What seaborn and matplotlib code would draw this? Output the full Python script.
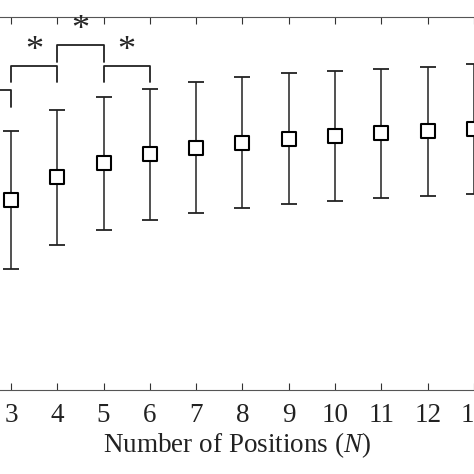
import matplotlib
matplotlib.use("Agg")
import matplotlib.pyplot as plt
import seaborn as sns
import pandas as pd

positions = [2, 3, 4, 5, 6, 7, 8, 9, 10, 11, 12, 13]
means = [168, 190, 213, 227, 236, 242, 247, 251, 254, 257, 259, 261]
upper = [283, 259, 280, 292.5, 301, 308, 313, 317, 319, 321, 323, 326]
lower = [53, 121, 145, 160, 170, 177, 182, 186, 189, 192, 194, 196]
# significance brackets: (x1, x2, bracket height, leg bottom)
brackets = [(2, 3, 300, 283), (3, 4, 324, 308), (4, 5, 345, 328), (5, 6, 324, 308)]

sns.set_style("ticks")
plt.rcParams['font.family'] = ['Liberation Serif', 'DejaVu Serif']
plt.rcParams['mathtext.fontset'] = 'custom'
plt.rcParams['mathtext.it'] = 'Liberation Serif:italic'
plt.rcParams['mathtext.rm'] = 'Liberation Serif'
fig = plt.figure(figsize=(4.74, 4.74), dpi=100)
ax = fig.add_axes([0, 84/474, 1, 373/474])
df = pd.DataFrame({"N": positions, "m": means})
yerr = [[m - l for m, l in zip(means, lower)], [u - m for m, u in zip(means, upper)]]
ax.errorbar(positions, means, yerr=yerr, fmt='none', ecolor='#222222', elinewidth=1.1,
            capsize=6, capthick=1.3, clip_on=False)
sns.scatterplot(data=df, x="N", y="m", marker='s', s=90, facecolor='white',
                edgecolor='black', linewidth=1.5, ax=ax, zorder=3, clip_on=False)
for x1, x2, h, b in brackets:
    ax.plot([x1, x1, x2, x2], [b, h, h, b], color='#222222', lw=1.3, clip_on=False)
    ax.text((x1 + x2) / 2, h - 2, '*', ha='center', va='bottom', fontsize=26)
ax.set_xlim(2.764, 12.914)
ax.set_ylim(0, 373)
ax.set_xticks(range(3, 14))
ax.set_xticklabels([str(i) for i in range(3, 14)], fontsize=19.5)
ax.set_yticks([])
ax.tick_params(axis='x', direction='in', top=True, length=5, pad=9, colors='#333333', labelcolor='#222222')
for s in ['left', 'right']:
    ax.spines[s].set_visible(False)
for s in ['top', 'bottom']:
    ax.spines[s].set_color('#555555')
ax.set_ylabel('')
ax.set_xlabel('Number of Positions ($\\mathit{N}$)', fontsize=19.5, color='#222222', labelpad=2)
fig.savefig('out.png', dpi=100)
